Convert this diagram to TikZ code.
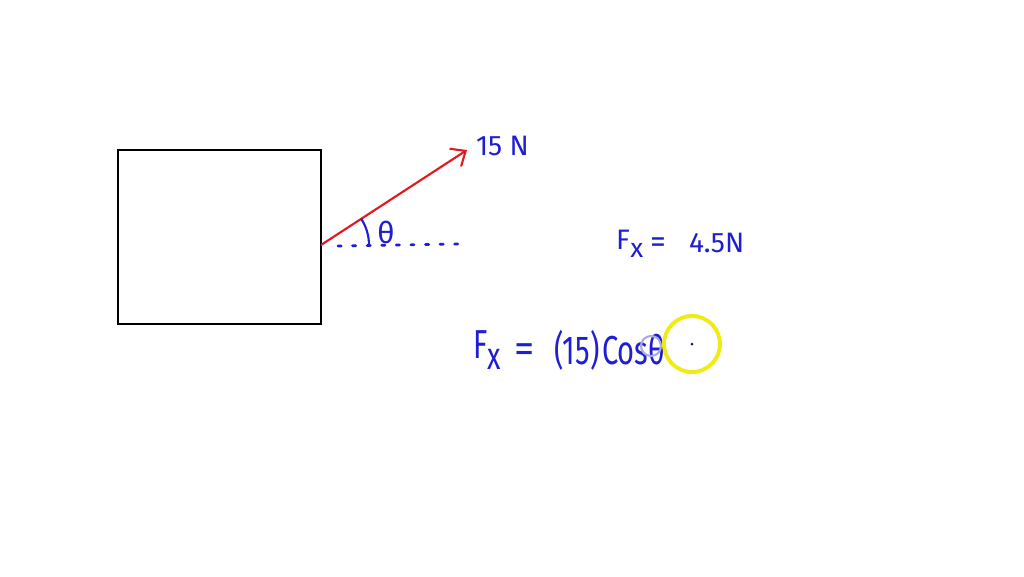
\documentclass[tikz,border=0pt]{standalone}
\usepackage{fontspec}
\setmainfont{Fira Sans}
\usetikzlibrary{arrows.meta}
\definecolor{ink}{RGB}{30,30,210}
\definecolor{force}{RGB}{225,25,30}
\definecolor{hl}{RGB}{240,235,20}
\definecolor{lav}{RGB}{170,170,225}
\tikzset{
  handtext/.style={text=ink, inner sep=0pt, outer sep=0pt},
  boxline/.style={draw=black, line width=1.1pt},
  forcearrow/.style={draw=force, line width=1.2pt, -{Straight Barb[length=7pt,width=12pt,line width=1.2pt]}},
  small/.style={font=\fontsize{16}{18}\selectfont},
  big/.style={font=\fontsize{23}{25}\selectfont},
}
\newcommand{\subx}{\raisebox{-0.5ex}{\kern0.02em\scalebox{0.95}{x}}}
\newcommand{\narrow}[1]{\scalebox{0.72}[1]{#1}}
\begin{document}
\begin{tikzpicture}[x=0.02cm,y=-0.02cm]
\useasboundingbox (0,0) rectangle (1024,576);
\fill[white] (0,0) rectangle (1024,576);
% block
\node[boxline, minimum width=203*0.02cm, minimum height=174*0.02cm, anchor=north west, inner sep=0pt] (block) at (117,149) {};
% force
\coordinate (origin) at (321,245);
\coordinate (tip) at (467,150);
\draw[forcearrow] (origin) -- (tip);
\node[handtext, anchor=west, small] (mag) at (476,146) {15 N};
% dotted reference
\coordinate (d1) at (338,246);
\coordinate (d2) at (458,244);
\draw[ink, line width=1.6pt, dash pattern=on 1.8pt off 6.5pt, line cap=round] (d1) -- (d2);
% angle arc
\draw[ink, line width=1.2pt] ([shift={(0:48)}]origin) arc[start angle=0, end angle=33, radius=48*0.02cm];
\node[handtext, font=\fontsize{17}{18}\selectfont] (theta) at (386,232) {θ};
% equation 1
\node[handtext, anchor=west, small] (eq1f) at (616,244) {F\subx};
\node[handtext, anchor=west, font=\fontsize{18}{20}\selectfont] (eq1eq) at (650,245) {=};
\node[handtext, anchor=west, small] (eq1v) at (689,243) {4.5N};
% equation 2
\node[handtext, anchor=west, big] (eq2f) at (473,350) {\narrow{F\subx}};
\node[handtext, anchor=west, big] (eq2eq) at (514,353) {=};
\node[handtext, anchor=west, big] (eq2a) at (554,350) {\narrow{(15)}};
\node[handtext, anchor=west, big] (eq2b) at (602,350) {\narrow{Cosθ}};
% cursor highlights
\node[draw=lav, line width=1.2pt, circle, minimum size=20*0.02cm, inner sep=0pt] (lavring) at (651,346) {};
\node[draw=hl, line width=2.2pt, circle, minimum size=56*0.02cm, inner sep=0pt] (cursor) at (692,344) {};
\fill[ink!60!black] (cursor.center) circle[radius=1.5];
\end{tikzpicture}
\end{document}
